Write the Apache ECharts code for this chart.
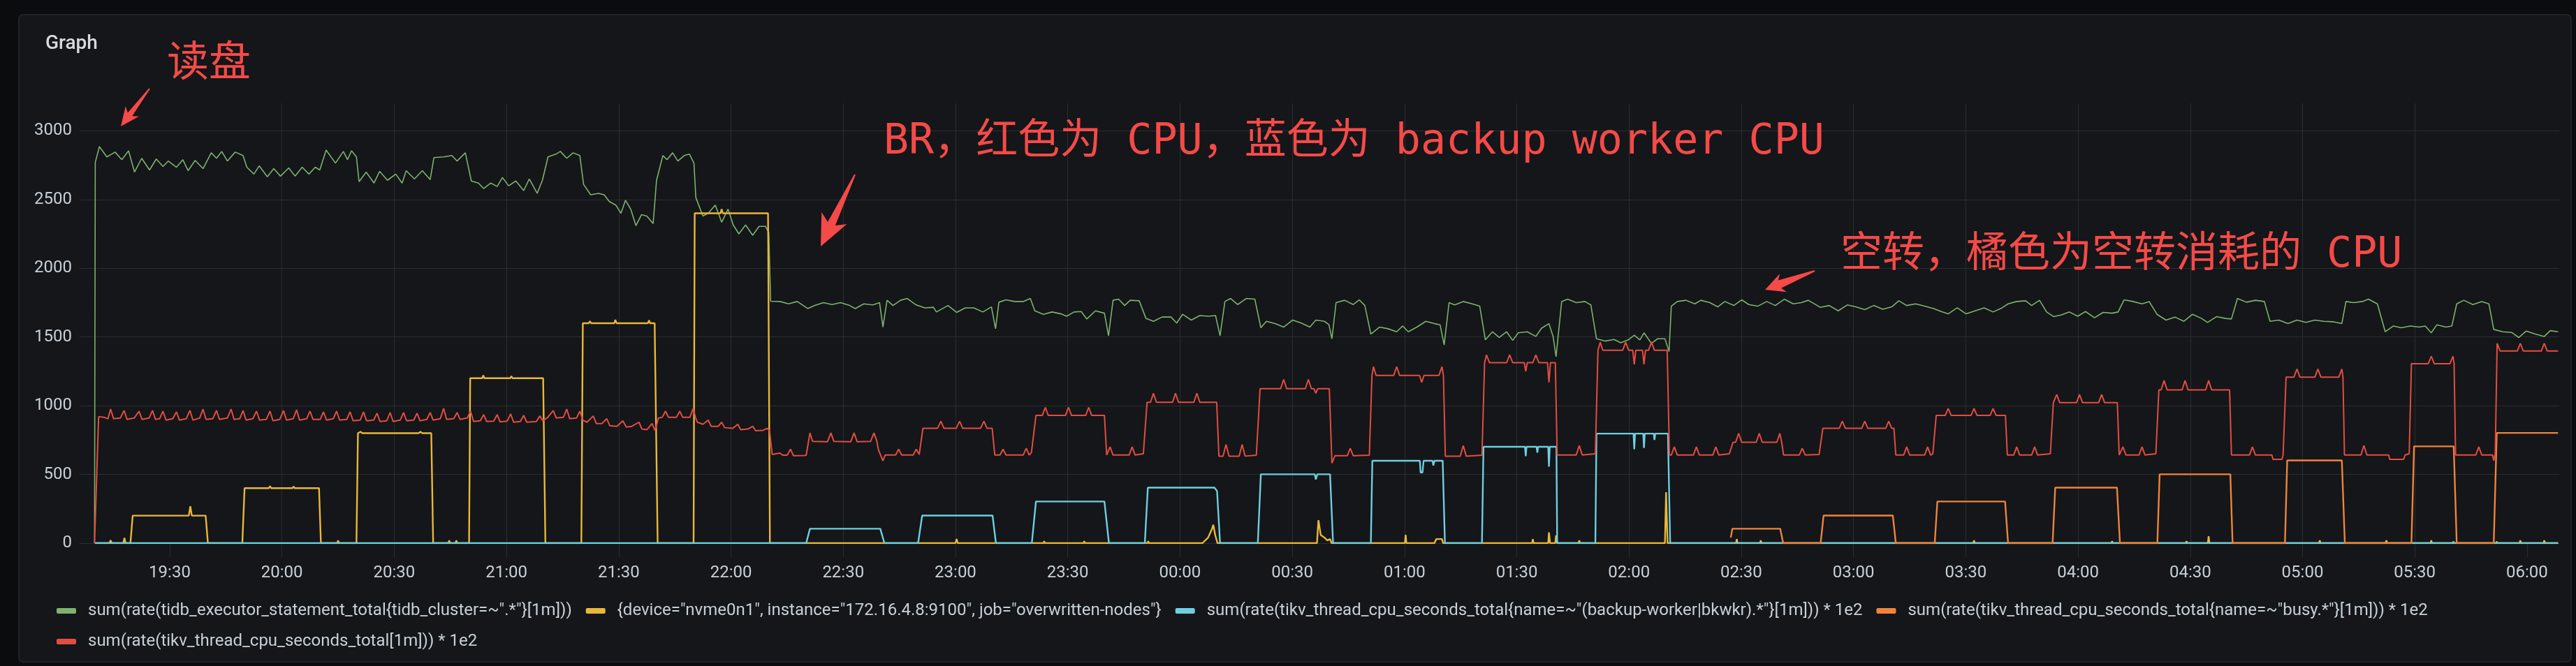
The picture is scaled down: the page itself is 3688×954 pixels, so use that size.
<!DOCTYPE html>
<html>
<head>
<meta charset="utf-8">
<script src="https://cdn.jsdelivr.net/npm/echarts@6/dist/echarts.min.js"></script>
<style>
html,body{margin:0;padding:0;background:#0b0c0e;}
#chart{width:3688px;height:954px;}
</style>
</head>
<body>
<div id="chart"></div>
<script>
// ---- DATA (time = minutes after 19:00, value) ----
const seriesNames = [
  'sum(rate(tidb_executor_statement_total{tidb_cluster=~".*"}[1m]))',
  '{device="nvme0n1", instance="172.16.4.8:9100", job="overwritten-nodes"}',
  'sum(rate(tikv_thread_cpu_seconds_total{name=~"(backup-worker|bkwkr).*"}[1m])) * 1e2',
  'sum(rate(tikv_thread_cpu_seconds_total{name=~"busy.*"}[1m])) * 1e2',
  'sum(rate(tikv_thread_cpu_seconds_total[1m])) * 1e2'
];

const xTickLabels = ['19:30','20:00','20:30','21:00','21:30','22:00','22:30','23:00','23:30','00:00','00:30',
  '01:00','01:30','02:00','02:30','03:00','03:30','04:00','04:30','05:00','05:30','06:00'];
const yTicks = [0, 500, 1000, 1500, 2000, 2500, 3000];

const statementQps = [
[9.9,0],[10.1,2770],[11.2,2885],[13.2,2810],[15.4,2845],[17.2,2790],[19.0,2855],[20.6,2700],[22.5,2800],[24.6,2715],[26.4,2795],[28.2,2740],[29.6,2780],[31.8,2735],[33.5,2790],[34.9,2710],[36.8,2785],[38.9,2725],[41.1,2840],[42.5,2800],[43.9,2850],[45.4,2780],[47.5,2845],[49.6,2820],[50.6,2735],[52.5,2685],[53.9,2745],[56.1,2665],[57.8,2725],[59.6,2670],[61.8,2730],[63.5,2670],[65.4,2735],[67.2,2685],[68.9,2735],[70.1,2715],[71.8,2860],[74.3,2765],[76.4,2850],[77.5,2790],[78.6,2855],[79.9,2810],[80.6,2630],[82.5,2700],[84.6,2620],[86.1,2705],[88.2,2640],[90.4,2685],[92.1,2620],[93.2,2710],[95.4,2650],[97.5,2710],[99.6,2645],[100.6,2805],[103.2,2810],[105.4,2820],[106.8,2780],[109.0,2840],[110.6,2635],[112.5,2620],[113.9,2580],[115.8,2620],[117.5,2595],[118.9,2660],[120.6,2600],[122.5,2635],[124.6,2565],[126.1,2650],[128.2,2545],[129.6,2640],[131.1,2810],[133.2,2830],[134.4,2850],[136.1,2800],[137.8,2840],[139.6,2820],[140.6,2610],[142.5,2535],[144.6,2545],[146.1,2535],[147.5,2485],[149.2,2460],[150.6,2400],[151.8,2495],[153.2,2430],[154.6,2310],[156.1,2390],[157.5,2380],[159.2,2325],[160.1,2640],[161.8,2820],[162.9,2790],[164.4,2840],[165.8,2780],[167.5,2820],[168.9,2830],[170.1,2765],[170.6,2515],[172.5,2380],[173.9,2400],[175.8,2460],[177.5,2335],[179.2,2430],[180.6,2315],[182.1,2250],[183.9,2315],[185.8,2240],[187.5,2305],[189.2,2305],[190.1,2260],[190.6,1760],
[193.1,1758],[195.4,1741],[197.7,1758],[200.5,1707],[202.4,1729],[204.7,1750],[207.0,1736],[209.3,1750],[211.7,1729],[213.2,1707],[215.5,1741],[217.9,1733],[219.7,1750],[220.6,1572],[221.7,1767],[223.3,1729],[225.3,1767],[227.1,1780],[229.5,1733],[231.8,1712],[234.1,1716],[234.9,1682],[238.0,1729],[240.3,1679],[242.6,1712],[244.9,1712],[247.3,1682],[249.6,1719],[250.7,1560],[251.6,1753],[253.5,1770],[255.8,1758],[258.1,1758],[260.0,1780],[261.2,1690],[263.5,1665],[265.8,1682],[268.2,1668],[269.7,1651],[271.7,1682],[273.6,1685],[275.1,1631],[277.4,1690],[279.8,1673],[280.9,1509],[282.1,1767],[283.6,1775],[285.2,1729],[286.7,1767],[289.1,1763],[290.9,1635],[292.9,1614],[295.2,1645],[297.6,1645],[299.1,1601],[300.7,1665],[303.0,1623],[305.3,1656],[307.6,1651],[309.5,1656],[310.7,1509],[312.0,1758],[313.5,1780],[315.4,1736],[317.7,1780],[320.0,1775],[321.6,1567],[323.1,1614],[325.4,1597],[327.7,1572],[330.1,1623],[332.4,1601],[334.7,1572],[336.3,1623],[338.6,1614],[339.8,1589],[340.6,1487],[341.7,1750],[344.0,1767],[346.3,1736],[347.9,1770],[349.4,1729],[351.0,1521],[353.3,1572],[355.6,1560],[357.9,1538],[359.5,1580],[361.0,1538],[363.3,1572],[365.7,1614],[368.0,1597],[369.5,1589],[370.6,1442],[371.9,1750],[373.4,1733],[375.7,1758],[378.1,1741],[380.1,1724],[381.6,1479],[383.5,1538],[385.3,1496],[387.3,1538],[388.9,1475],[390.4,1530],[392.8,1538],[395.1,1504],[396.6,1563],[398.6,1597],[399.7,1504],[400.5,1357],[402.0,1758],[403.6,1775],[405.9,1750],[408.2,1758],[409.8,1733],[411.3,1487],[413.6,1470],[416.0,1482],[417.8,1458],[419.8,1479],[421.4,1513],[422.9,1479],[424.0,1530],[426.0,1453],[427.6,1487],[429.6,1487],[430.7,1394],
[431.3,1724],[432.9,1758],[435.2,1767],[437.6,1741],[439.2,1767],[441.6,1750],[443.7,1719],[445.6,1758],[448.0,1729],[450.1,1770],[452.0,1736],[454.4,1724],[456.8,1758],[459.1,1729],[461.5,1775],[463.9,1741],[466.0,1750],[467.9,1767],[471.1,1716],[473.5,1729],[475.9,1690],[478.3,1733],[480.6,1719],[483.0,1699],[485.4,1729],[487.8,1702],[490.2,1719],[492.1,1763],[494.2,1729],[496.6,1741],[499.0,1724],[501.4,1707],[503.7,1682],[505.3,1668],[507.7,1712],[510.1,1668],[512.5,1690],[514.9,1712],[517.3,1682],[519.7,1712],[521.3,1741],[523.6,1758],[526.0,1763],[527.6,1729],[529.7,1767],[531.6,1682],[533.5,1648],[535.6,1661],[537.7,1682],[539.9,1651],[542.0,1685],[544.4,1640],[546.7,1679],[549.1,1673],[550.7,1682],[552.3,1770],[554.7,1758],[557.1,1741],[559.0,1758],[561.1,1665],[563.5,1623],[565.9,1645],[568.3,1614],[570.6,1665],[573.0,1635],[574.6,1606],[577.0,1648],[579.4,1635],[581.0,1631],[582.6,1780],[585.0,1753],[587.4,1767],[589.8,1758],[591.3,1614],[593.7,1623],[596.1,1597],[598.5,1623],[600.9,1606],[603.3,1623],[605.7,1614],[608.1,1611],[610.5,1597],[611.6,1758],[613.6,1750],[616.0,1758],[617.6,1775],[620.0,1741],[622.1,1538],[624.3,1580],[626.4,1567],[628.8,1580],[631.2,1572],[632.8,1580],[634.4,1530],[635.9,1589],[638.3,1572],[639.9,1580],[641.2,1741],[643.1,1767],[645.5,1736],[647.9,1758],[649.8,1741],[651.1,1555],[653.5,1538],[655.9,1533],[657.8,1496],[659.8,1543],[662.2,1521],[664.6,1504],[666.2,1546],[668.3,1538]
];

const diskRead = [
[10.1,0],[13.9,0],[14.2,20],[14.5,0],[17.6,0],[17.9,38],[18.2,0],[19.5,0],[20.1,200],[35.1,200],[35.5,268],[35.9,200],[39.6,200],[40.2,0],[49.4,0],[50.0,400],[56.5,400],[56.8,415],[57.1,400],[62.8,400],[63.1,412],[63.4,400],[67.2,400],[67.5,410],[67.8,400],[69.9,400],[70.4,0],[74.8,0],[75.0,20],[75.2,0],[79.9,0],[80.3,800],[81.0,810],[81.5,800],[96.5,800],[97.0,810],[97.5,800],[99.9,800],[100.4,0],[104.5,0],[104.7,20],[104.9,0],[106.4,0],[106.6,20],[106.8,0],[110.0,0],[110.3,1200],[113.5,1200],[113.8,1220],[114.1,1200],[121.0,1200],[121.3,1215],[121.6,1200],[129.8,1200],[130.4,0],[140.0,0],[140.4,1600],[142.0,1600],[142.3,1615],[142.6,1600],[148.8,1600],[149.1,1625],[149.4,1600],[157.8,1600],[158.1,1620],[158.4,1600],[159.6,1600],[160.4,0],[170.0,0],[170.3,2400],[177.2,2400],[177.5,2430],[177.8,2400],[189.9,2400],[190.4,0],
[195.7,0],[195.9,10],[196.1,0],[229.3,0],[229.5,10],[229.7,0],[240.0,0],[240.3,30],[240.6,0],[263.5,0],[263.7,15],[263.9,0],[274.2,0],[274.4,15],[274.6,0],[291.3,0],[291.5,15],[291.7,0],[306.0,0],[307.5,40],[308.5,100],[308.9,134],[309.4,60],[310.0,0],[327.5,0],[327.7,10],[327.9,0],[336.6,0],[337.0,167],[337.6,60],[338.6,40],[339.4,20],[340.1,30],[340.5,0],[360.1,0],[360.3,61],[360.5,0],[368.0,0],[368.5,30],[370.0,30],[370.3,0],[394.1,0],[394.3,30],[394.5,0],[398.4,0],[398.6,78],[398.9,0],[400.3,0],[400.5,57],[400.8,0],[406.5,0],[406.7,20],[406.9,0],[429.6,0],[429.9,371],[430.3,0],[448.6,0],[448.8,30],[449.0,0],[455.0,0],[455.2,20],[455.4,0],[466.1,0],[466.3,10],[466.5,0],[494.0,0],[494.2,10],[494.4,0],[512.0,0],[512.2,20],[512.4,0],[535.4,0],[535.6,10],[535.8,0],[548.9,0],[549.1,15],[549.3,0],[568.8,0],[569.0,15],[569.2,0],[574.7,0],[574.9,50],[575.1,0],[604.4,0],[604.6,20],[604.8,0],[622.2,0],[622.4,20],[622.6,0],[634.2,0],[634.4,20],[634.6,0],[640.1,0],[640.3,12],[640.5,0],[646.6,0],[646.8,10],[647.0,0],[651.7,0],[651.9,12],[652.1,0],[658.0,0],[658.2,20],[658.4,0],[664.4,0],[664.6,20],[664.8,0],[668.3,0]
];

const backupWorkerCpu = [
[10.0,0],[200.1,0],[201.1,105],[219.9,105],[221.0,0],[230.0,0],[231.1,201],[249.9,201],[250.8,0],[260.4,0],[261.5,303],[279.8,303],[281.0,0],[290.6,0],[291.4,404],[309.2,404],[309.9,379],[310.7,0],[320.8,0],[321.6,501],[336.0,501],[336.3,464],[336.7,501],[340.1,501],[340.9,0],[351.0,0],[351.4,599],[364.1,599],[364.3,514],[364.8,514],[365.1,599],[367.5,599],[367.7,565],[368.0,599],[370.2,599],[370.8,0],[380.7,0],[381.1,701],[392.2,701],[392.4,633],[392.6,701],[395.3,701],[395.5,658],[395.7,701],[398.4,701],[398.6,557],[398.8,701],[400.6,701],[400.8,0],[411.0,0],[411.3,797],[421.2,797],[421.4,684],[421.6,797],[423.8,797],[424.0,692],[424.2,797],[426.6,797],[426.8,751],[427.0,797],[430.4,797],[431.0,0],[668.3,0]
];

const busyCpu = [
[447.2,40],[447.6,105],[460.4,105],[461.2,0],[471.2,0],[472.0,201],[490.5,201],[491.3,0],[501.7,0],[502.4,303],[520.5,303],[521.3,0],[533.2,0],[533.9,404],[550.4,404],[551.2,0],[561.2,0],[561.8,501],[580.7,501],[581.3,0],[595.3,0],[595.9,602],[610.5,602],[611.3,0],[629.1,0],[629.8,704],[640.4,704],[641.2,0],[651.1,0],[651.9,802],[668.3,802]
];

const tikvCpu = [
[9.9,0],[11.0,920],[12.5,915],[13.5,905],[14.2,975],[15.0,905],[16.8,910],[17.8,965],[18.6,900],[20.5,910],[21.8,960],[22.6,900],[24.5,910],[25.4,965],[26.2,900],[27.3,905],[28.2,960],[29.0,895],[30.8,905],[31.8,955],[32.6,895],[34.4,905],[35.4,965],[36.2,895],[38.0,910],[38.9,975],[39.7,900],[41.5,905],[42.5,965],[43.3,900],[45.4,910],[46.4,975],[47.2,900],[48.7,905],[49.6,965],[50.4,895],[52.2,905],[53.2,960],[54.0,895],[55.8,900],[56.8,960],[57.6,890],[59.4,900],[60.4,965],[61.2,895],[63.0,905],[63.9,970],[64.7,895],[66.6,905],[67.5,960],[68.3,900],[70.2,900],[71.1,955],[71.9,895],[73.7,905],[74.6,960],[75.4,895],[77.3,900],[78.2,955],[79.0,890],[80.9,895],[81.8,955],[82.6,890],[84.5,895],[85.4,945],[86.2,885],[88.0,890],[88.9,950],[89.7,885],[91.6,895],[92.5,950],[93.3,890],[95.2,895],[96.1,945],[96.9,890],[98.7,900],[99.6,950],[100.4,895],[102.3,905],[103.2,980],[104.0,900],[105.9,905],[106.8,950],[107.6,900],[109.5,910],[110.4,960],[111.2,885],
[113.0,890],[113.9,935],[114.7,885],[116.6,888],[117.5,935],[118.3,882],[120.2,888],[121.1,940],[121.9,880],[123.7,885],[124.6,930],[125.4,880],[128.0,885],[128.9,925],[129.7,890],[131.0,915],[132.5,965],[133.3,910],[135.2,915],[136.1,975],[136.9,905],[138.7,910],[139.6,960],[140.4,895],
[141.5,880],[143.2,925],[144.0,870],[145.5,870],[146.8,905],[147.6,855],[149.5,850],[151.1,890],[152.0,845],[153.5,850],[155.4,880],[156.2,830],[157.5,825],[158.9,870],[159.7,820],
[160.6,910],[161.6,915],[162.5,960],[163.3,915],[165.4,915],[166.3,960],[167.1,915],[169.0,915],[169.9,980],[170.5,915],[171.0,880],[172.5,865],[173.9,895],[174.7,850],[176.6,850],[177.5,880],[178.3,840],[180.5,835],[181.8,865],[182.6,825],[184.5,830],[185.8,850],[186.6,818],[188.5,820],[189.6,835],[190.3,820],
[191.0,645],[193.1,655],[193.8,640],[195.0,640],[195.9,683],[196.7,636],[199.6,638],[200.1,640],
[201.1,802],[201.8,740],[205.8,738],[206.7,802],[207.5,740],[212.0,738],[212.9,802],[213.7,738],[217.3,740],[218.2,802],[219.0,740],[219.4,680],[220.6,599],[221.2,641],[224.0,641],[224.8,683],[225.6,641],[228.7,641],[229.5,683],[230.3,645],
[231.3,836],[235.2,836],[236.1,887],[236.9,836],[240.2,836],[241.1,887],[241.9,836],[246.7,836],[247.6,887],[248.4,836],[249.8,836],[250.5,641],[251.9,641],[252.7,683],[253.5,641],[258.1,641],[258.9,690],[259.7,641],[260.3,660],
[261.5,929],[263.2,929],[264.0,988],[264.8,929],[269.4,929],[270.2,988],[271.0,929],[274.8,929],[275.6,988],[276.4,929],[279.8,929],[280.4,641],[281.3,700],[282.1,641],[286.4,641],[287.2,700],[288.0,641],[290.2,650],
[291.2,1025],[292.1,1025],[292.9,1090],[293.7,1025],[298.0,1025],[298.8,1090],[299.6,1025],[303.7,1025],[304.5,1090],[305.3,1025],[309.8,1025],[310.4,633],[311.5,633],[312.3,717],[313.1,633],[315.8,633],[316.6,717],[317.4,633],[320.4,640],
[321.4,1124],[326.9,1124],[327.7,1191],[328.5,1124],[333.5,1124],[334.3,1191],[335.1,1124],[335.8,1124],[336.3,1090],[336.8,1124],[339.9,1124],[340.6,582],[341.4,636],[344.7,636],[345.5,690],[346.3,636],[350.6,640],
[351.3,1220],[351.7,1284],[352.4,1220],[357.1,1220],[357.9,1284],[358.7,1220],[364.0,1220],[364.6,1170],[365.2,1220],[369.2,1220],[370.0,1284],[370.4,1220],[370.9,633],[374.9,633],[375.7,710],[376.5,633],[380.7,640],
[381.4,1313],[381.9,1369],[382.7,1313],[387.3,1313],[388.1,1369],[388.9,1313],[392.0,1313],[392.4,1250],[392.8,1313],[394.3,1313],[395.1,1369],[395.9,1313],[398.2,1313],[398.6,1170],[399.0,1313],[400.3,1313],[400.8,641],[405.9,641],[406.7,710],[407.5,641],[411.0,650],
[411.7,1403],[412.3,1462],[413.0,1403],[418.3,1403],[419.1,1462],[419.9,1403],[421.0,1403],[421.4,1301],[421.8,1403],[423.6,1403],[424.0,1301],[424.4,1403],[425.2,1403],[426.0,1462],[426.8,1403],[430.2,1403],[430.8,641],[431.3,641],[432.1,700],[432.9,641],[437.2,641],[438.0,700],[438.8,641],[442.4,641],[443.2,700],[444.0,641],[446.8,650],
[447.8,734],[448.5,734],[449.3,799],[450.1,734],[454.0,734],[454.8,799],[455.6,734],[459.5,734],[460.3,799],[460.8,734],[461.3,641],[465.5,641],[466.3,690],[467.1,641],[470.8,645],
[471.8,836],[476.2,836],[477.0,887],[477.8,836],[482.2,836],[483.0,887],[483.8,836],[488.6,836],[489.4,887],[490.2,836],[490.8,836],[491.3,641],[493.4,641],[494.2,700],[495.0,641],[499.0,641],[499.8,700],[500.6,641],[501.2,650],
[502.1,929],[504.5,929],[505.3,980],[506.1,929],[511.4,929],[512.2,980],[513.0,929],[516.5,929],[517.3,980],[518.1,929],[520.6,929],[521.1,641],[522.8,641],[523.6,700],[524.4,641],[527.6,641],[528.4,700],[529.2,641],[532.6,650],
[533.4,1022],[534.3,1081],[535.1,1022],[539.6,1022],[540.4,1081],[541.2,1022],[545.5,1022],[546.3,1081],[547.1,1022],[550.5,1022],[551.0,641],[551.2,641],[552.0,700],[552.8,641],[556.3,641],[557.1,700],[557.9,641],[560.8,650],
[561.6,1115],[562.2,1115],[563.0,1183],[563.8,1115],[567.8,1115],[568.6,1183],[569.4,1115],[574.1,1115],[574.9,1183],[575.7,1115],[580.5,1115],[581.0,641],[585.8,641],[586.6,700],[587.4,641],[591.8,641],[592.1,610],[594.5,610],[594.8,641],
[595.6,1208],[597.7,1208],[598.5,1267],[599.3,1208],[603.3,1208],[604.1,1267],[604.9,1208],[609.7,1208],[610.5,1267],[610.8,1208],[611.2,641],[615.6,641],[616.4,710],[617.2,641],[623.0,641],[623.3,610],[627.0,610],[627.4,641],[628.5,650],
[629.1,1306],[633.6,1306],[634.4,1360],[635.2,1306],[639.4,1306],[640.2,1360],[640.5,1306],[640.9,641],[646.3,641],[647.1,700],[647.9,641],[650.8,641],[651.1,600],[651.5,650],
[652.0,1454],[652.8,1398],[657.4,1398],[658.2,1454],[659.0,1398],[663.8,1398],[664.6,1454],[665.4,1398],[668.3,1398]
];

// ---- annotations (screen overlay, not data) ----
const noteTexts = [
  {text: '读盘', x: 239, y: 93},
  {text: 'BR，红色为 CPU，蓝色为 backup worker CPU', x: 1265, y: 204},
  {text: '空转，橘色为空转消耗的 CPU', x: 2635, y: 366}
];
const noteArrows = [
  [214, 127, 173, 181, 27, 12, 4],
  [1224, 250, 1175, 353, 45, 20, 6],
  [2598, 388, 2527, 415, 28, 14, 6]
];

// ---- build ----
const labelToMin = s => {
  const h = +s.slice(0, 2), mi = +s.slice(3, 5);
  return ((h - 19 + 24) % 24) * 60 + mi;
};
const xTickValues = xTickLabels.map(labelToMin);
const minToLabel = v => {
  const i = xTickValues.indexOf(v);
  return i >= 0 ? xTickLabels[i] : '';
};

const GRID = '#2b2d31';
const TEXT = '#c7d0d9';
const NOTE = '#f54a48';
const colors = ['#7eb26d', '#eab839', '#6ed0e0', '#ef843c', '#e24d42'];
const lineWidths = [1.6, 2.4, 2.4, 2.4, 2];
const datasets = [statementQps, diskRead, backupWorkerCpu, busyCpu, tikvCpu];

function arrowPoints(a) {
  const [tx, ty, px, py, hl, hh, sh] = a;
  const L = Math.hypot(px - tx, py - ty);
  const dx = (px - tx) / L, dy = (py - ty) / L;
  const nx = -dy, ny = dx;
  const bx = px - dx * hl, by = py - dy * hl;
  const sx = px - dx * hl * 0.8, sy = py - dy * hl * 0.8;
  return [
    [tx + nx * 1, ty + ny * 1],
    [sx + nx * sh, sy + ny * sh],
    [bx + nx * hh, by + ny * hh],
    [px, py],
    [bx - nx * hh, by - ny * hh],
    [sx - nx * sh, sy - ny * sh],
    [tx - nx * 1, ty - ny * 1]
  ];
}

const graphic = [
  {type: 'rect', z: -10, shape: {x: 27, y: 21, width: 3654, height: 927, r: 6},
   style: {fill: '#141619', stroke: '#202226', lineWidth: 2}, silent: true}
];
noteTexts.forEach(n => graphic.push({
  type: 'text', z: 100, x: n.x, y: n.y, silent: true,
  style: {text: n.text, fill: NOTE, font: '60px "DejaVu Sans Mono", "Noto Sans CJK SC"', verticalAlign: 'middle', align: 'left'}
}));
noteArrows.forEach(a => graphic.push({
  type: 'polygon', z: 100, silent: true, shape: {points: arrowPoints(a)}, style: {fill: NOTE}
}));

const chart = echarts.init(document.getElementById('chart'), null, {renderer: 'canvas'});
chart.setOption({
  backgroundColor: '#0b0c0e',
  animation: false,
  title: {
    text: 'Graph', left: 60, top: 44,
    textStyle: {color: '#d8d9da', fontFamily: 'Roboto', fontSize: 28, fontWeight: 500, lineHeight: 28}
  },
  grid: {left: 114, right: 24, top: 148, bottom: 176},
  legend: {
    left: 76, top: 858, width: 3450,
    icon: 'roundRect', itemWidth: 28, itemHeight: 8, itemGap: 20,
    textStyle: {color: TEXT, fontFamily: 'Roboto', fontSize: 24, lineHeight: 24, padding: [0, 0, 0, 12]},
    data: seriesNames, selectedMode: false
  },
  xAxis: {
    type: 'value',
    min: 5.92, max: 668.6,
    axisLine: {show: false},
    axisTick: {show: true, length: 20, customValues: xTickValues, lineStyle: {color: GRID, width: 1}},
    splitLine: {show: true, showMinLine: false, showMaxLine: false, lineStyle: {color: GRID, width: 1}},
    axisLabel: {
      customValues: xTickValues,
      color: TEXT, fontFamily: 'Roboto', fontSize: 24, lineHeight: 24, margin: 31,
      formatter: minToLabel
    }
  },
  yAxis: {
    type: 'value', min: 0, max: 3200, interval: 500,
    axisLine: {show: false}, axisTick: {show: false},
    splitLine: {show: true, showMaxLine: false, lineStyle: {color: GRID, width: 1}},
    axisLabel: {
      color: TEXT, fontFamily: 'Roboto', fontSize: 24, margin: 11, showMaxLabel: false,
      formatter: v => (yTicks.indexOf(v) >= 0 ? String(v) : '')
    }
  },
  graphic: graphic,
  series: datasets.map((d, i) => ({
    name: seriesNames[i], type: 'line', data: d,
    showSymbol: false, symbol: 'none', sampling: null,
    color: colors[i],
    lineStyle: {color: colors[i], width: lineWidths[i]},
    emphasis: {disabled: true}, z: 2 + i * 0.01
  }))
});
</script>
</body>
</html>
